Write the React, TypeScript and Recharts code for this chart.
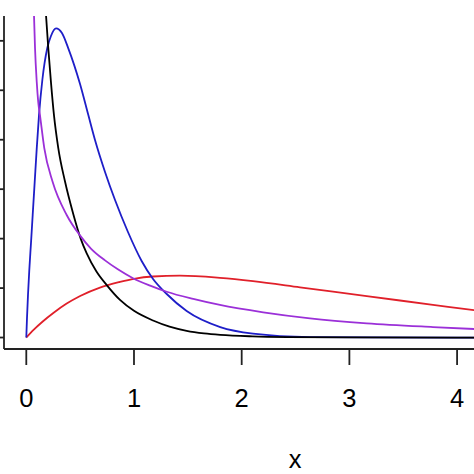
import { LineChart, Line, XAxis, YAxis } from "recharts";

interface Pt {
  x: number;
  y: number;
}

// values
const blackCurve: Pt[] = [
  { x: 0.14, y: 4.2 },
  { x: 0.16, y: 3.68 },
  { x: 0.183, y: 3.261 },
  { x: 0.204, y: 2.927 },
  { x: 0.229, y: 2.583 },
  { x: 0.257, y: 2.249 },
  { x: 0.297, y: 1.916 },
  { x: 0.359, y: 1.58 },
  { x: 0.436, y: 1.25 },
  { x: 0.505, y: 1.0 },
  { x: 0.561, y: 0.85 },
  { x: 0.65, y: 0.67 },
  { x: 0.747, y: 0.53 },
  { x: 0.87, y: 0.38 },
  { x: 1.0, y: 0.27 },
  { x: 1.177, y: 0.172 },
  { x: 1.33, y: 0.11 },
  { x: 1.489, y: 0.068 },
  { x: 1.65, y: 0.042 },
  { x: 1.801, y: 0.027 },
  { x: 2.1, y: 0.012 },
  { x: 2.42, y: 0.005 },
  { x: 3.0, y: 0.001 },
  { x: 4.0, y: 0 },
  { x: 5.0, y: 0 },
];

const purpleCurve: Pt[] = [
  { x: 0.04, y: 3.75 },
  { x: 0.0715, y: 3.261 },
  { x: 0.081, y: 2.927 },
  { x: 0.097, y: 2.583 },
  { x: 0.111, y: 2.381 },
  { x: 0.127, y: 2.249 },
  { x: 0.167, y: 1.916 },
  { x: 0.245, y: 1.572 },
  { x: 0.375, y: 1.239 },
  { x: 0.5, y: 1.03 },
  { x: 0.6, y: 0.9 },
  { x: 0.731, y: 0.78 },
  { x: 0.85, y: 0.69 },
  { x: 0.991, y: 0.6 },
  { x: 1.15, y: 0.525 },
  { x: 1.304, y: 0.463 },
  { x: 1.55, y: 0.39 },
  { x: 1.798, y: 0.329 },
  { x: 2.2, y: 0.255 },
  { x: 2.634, y: 0.194 },
  { x: 3.161, y: 0.144 },
  { x: 3.776, y: 0.106 },
  { x: 4.157, y: 0.086 },
  { x: 5.0, y: 0.05 },
];

const blueCurve: Pt[] = [
  { x: 0, y: 0 },
  { x: 0.0065, y: 0.197 },
  { x: 0.0158, y: 0.43 },
  { x: 0.0279, y: 0.683 },
  { x: 0.0436, y: 0.956 },
  { x: 0.0594, y: 1.239 },
  { x: 0.078, y: 1.572 },
  { x: 0.0966, y: 1.905 },
  { x: 0.118, y: 2.249 },
  { x: 0.149, y: 2.604 },
  { x: 0.195, y: 2.927 },
  { x: 0.229, y: 3.049 },
  { x: 0.276, y: 3.126 },
  { x: 0.331, y: 3.079 },
  { x: 0.39, y: 2.924 },
  { x: 0.499, y: 2.563 },
  { x: 0.576, y: 2.249 },
  { x: 0.638, y: 1.997 },
  { x: 0.731, y: 1.674 },
  { x: 0.824, y: 1.39 },
  { x: 0.944, y: 1.067 },
  { x: 1.071, y: 0.774 },
  { x: 1.177, y: 0.592 },
  { x: 1.304, y: 0.44 },
  { x: 1.489, y: 0.268 },
  { x: 1.801, y: 0.106 },
  { x: 2.105, y: 0.04 },
  { x: 2.634, y: 0.005 },
  { x: 3.2, y: 0.001 },
  { x: 4.0, y: 0 },
  { x: 5.0, y: 0 },
];

const redCurve: Pt[] = [
  { x: 0, y: 0 },
  { x: 0.065, y: 0.075 },
  { x: 0.15, y: 0.16 },
  { x: 0.251, y: 0.248 },
  { x: 0.375, y: 0.343 },
  { x: 0.5, y: 0.42 },
  { x: 0.684, y: 0.505 },
  { x: 0.87, y: 0.562 },
  { x: 1.0, y: 0.594 },
  { x: 1.176, y: 0.617 },
  { x: 1.427, y: 0.625 },
  { x: 1.798, y: 0.603 },
  { x: 2.105, y: 0.57 },
  { x: 2.541, y: 0.508 },
  { x: 3.161, y: 0.418 },
  { x: 3.776, y: 0.331 },
  { x: 4.157, y: 0.276 },
  { x: 4.6, y: 0.22 },
  { x: 5.0, y: 0.175 },
];

const xTicks = [0, 1, 2, 3, 4];
const yTicks = [0, 0.5, 1, 1.5, 2, 2.5, 3];

const AXIS = "#222";
const FONT = "'Liberation Sans', Arial, sans-serif";

// y tick labels are outside the visible crop, so only the tick marks are drawn
const NoLabel = () => <g />;

export default function App() {
  return (
    <div
      style={{
        position: "fixed",
        left: 0,
        top: 0,
        width: 474,
        height: 474,
        overflow: "hidden",
        background: "#fff",
      }}
    >
      <div style={{ position: "absolute", left: -56, top: 0 }}>
        <LineChart
          width={660}
          height={474}
          margin={{ top: 16, right: 18, bottom: 0, left: 0 }}
        >
          <XAxis
            dataKey="x"
            type="number"
            domain={[-0.207, 5.197]}
            ticks={xTicks}
            allowDataOverflow
            height={125}
            tickSize={16}
            tickMargin={24}
            axisLine={{ stroke: AXIS, strokeWidth: 1.8 }}
            tickLine={{ stroke: AXIS, strokeWidth: 1.8 }}
            tick={{ fill: "#000", fontSize: 25.5, fontFamily: FONT }}
            label={{
              value: "x",
              position: "insideBottom",
              offset: 6,
              fill: "#000",
              fontSize: 25.5,
              fontFamily: FONT,
            }}
          />
          <XAxis
            xAxisId="top"
            orientation="top"
            type="number"
            domain={[-0.207, 5.197]}
            height={0}
            tick={false}
            tickLine={false}
            axisLine={{ stroke: AXIS, strokeWidth: 1.8 }}
          />
          <YAxis
            type="number"
            domain={[-0.116, 3.251]}
            ticks={yTicks}
            allowDataOverflow
            width={60}
            tickSize={5}
            axisLine={{ stroke: AXIS, strokeWidth: 1.8 }}
            tickLine={{ stroke: AXIS, strokeWidth: 1.8 }}
            tick={NoLabel}
          />
          <Line
            data={redCurve}
            dataKey="y"
            type="monotone"
            stroke="#e0202a"
            strokeWidth={1.8}
            dot={false}
            isAnimationActive={false}
          />
          <Line
            data={blueCurve}
            dataKey="y"
            type="monotone"
            stroke="#1e1ec8"
            strokeWidth={1.8}
            dot={false}
            isAnimationActive={false}
          />
          <Line
            data={blackCurve}
            dataKey="y"
            type="monotone"
            stroke="#000"
            strokeWidth={1.8}
            dot={false}
            isAnimationActive={false}
          />
          <Line
            data={purpleCurve}
            dataKey="y"
            type="monotone"
            stroke="#9b30d8"
            strokeWidth={1.8}
            dot={false}
            isAnimationActive={false}
          />
        </LineChart>
      </div>
    </div>
  );
}
